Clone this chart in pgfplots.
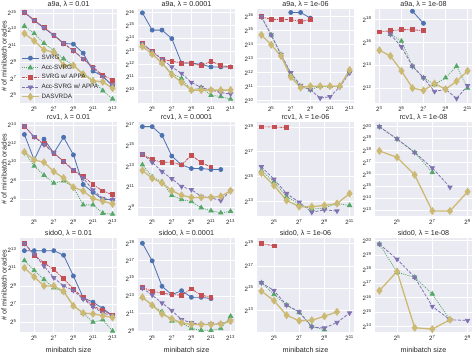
\documentclass[border=0pt]{standalone}
\usepackage{pgfplots}
\pgfplotsset{compat=1.18}
\usepackage{fontspec}
\setmainfont{Liberation Sans}
\definecolor{sbg}{HTML}{EAEAF2}
\definecolor{cB}{HTML}{4C72B0}
\definecolor{cG}{HTML}{55A868}
\definecolor{cR}{HTML}{C44E52}
\definecolor{cP}{HTML}{8172B2}
\definecolor{cY}{HTML}{CCB974}
\definecolor{txt}{HTML}{262626}
\newcommand{\tl}{\pgfmathtruncatemacro{\e}{\tick}2\textsuperscript{\e}}
\pgfplotsset{
  panel/.style={
    scale only axis, width=97pt, height=94pt, anchor=south west,
    axis background/.style={fill=sbg},
    axis line style={draw=none},
    major tick length=0pt, minor tick num=0,
    grid=major, grid style={white, line width=0.8pt},
    tick label style={font=\fontsize{6.2}{6.2}\selectfont, text=txt},
    xticklabel style={yshift=0.5pt},
    xticklabel={\tl}, yticklabel={\tl},
    title style={font=\fontsize{7.2}{7.2}\selectfont, text=txt, yshift=-8.3pt},
    xmin=3.55, xmax=13.45, xtick={5,7,9,11,13},
    label style={font=\fontsize{7.2}{7.2}\selectfont, text=txt},
    ylabel style={at={(axis description cs:-0.165,0.5)}, anchor=center},
    xlabel style={at={(axis description cs:0.5,-0.19)}, anchor=center},
  },
  sB/.style={cB, solid, line width=0.8pt, mark=*, mark size=2pt},
  sG/.style={cG, line width=0.8pt, dash pattern=on 1pt off 1.2pt, mark=triangle*, mark size=2.4pt, mark options={solid}},
  sR/.style={cR, line width=0.8pt, dash pattern=on 3pt off 1pt on 1pt off 1pt, mark=square*, mark size=1.9pt, mark options={solid}},
  sP/.style={cP, line width=0.8pt, dash pattern=on 3pt off 1.5pt, mark=triangle*, mark size=2.4pt, mark options={solid, rotate=180}},
  sY/.style={cY, solid, line width=1.3pt, mark=diamond*, mark size=3pt},
}
\begin{document}
\begin{tikzpicture}
\useasboundingbox (0,0) rectangle (474pt,353pt);
% ---------- row 1 : a9a
\begin{axis}[panel, at={(20pt,250pt)}, title={a9a, λ = 0.01}, ymin=4.0, ymax=15.5, ytick={5,7,9,11,13,15},
  ylabel={\# of minibatch oracles},
  legend style={at={(axis description cs:0.0,0.0)}, anchor=south west, draw=none, fill=none,
    font=\fontsize{6.3}{6.3}\selectfont, text=txt, row sep=-0.3pt, inner sep=1pt}, legend cell align=left]
\addplot[sB] coordinates {(4,15.1)(5,14.1)(6,13.2)(7,12.3)(8,11.3)(9,11.2)(10,10.1)(11,7.9)(12,7.3)(13,6.1)};
\addplot[sG] coordinates {(4,13.4)(5,12.5)(6,11.3)(7,10.4)(8,9.4)(9,8.6)(10,7.6)(11,6.8)(12,5.5)(13,4.5)};
\addplot[sR] coordinates {(4,15.1)(5,14.1)(6,13.2)(7,12.3)(8,11.3)(9,10.4)(10,9.4)(11,8.4)(12,7.4)(13,6.8)};
\addplot[sP] coordinates {(4,15.1)(5,14.1)(6,13.2)(7,12.3)(8,11.3)(9,10.4)(10,9.4)(11,8.3)(12,7.2)(13,6.2)};
\addplot[sY] coordinates {(4,12.5)(5,11.6)(6,10.5)(7,10.2)(8,8.6)(9,8.6)(10,7.5)(11,6.7)(12,6.6)(13,5.8)};
\legend{SVRG, Acc-SVRG, SVRG w/ APPA, Acc-SVRG w/ APPA, DASVRDA}
\end{axis}
\begin{axis}[panel, at={(138pt,250pt)}, title={a9a, λ = 0.0001}, ymin=9.0, ymax=16.3, ytick={10,11,12,13,14,15,16}]
\addplot[sB] coordinates {(4,16.0)(5,14.66)(6,14.66)(7,14.0)(8,12.1)(9,12.1)(10,12.0)(11,11.8)(12,11.8)(13,11.8)};
\addplot[sG] coordinates {(4,13.4)(5,12.8)(6,12.1)(7,11.3)(8,10.9)(9,10.0)(10,10.2)(11,9.6)(12,9.5)(13,9.3)};
\addplot[sR] coordinates {(4,13.6)(5,13.0)(6,12.4)(7,12.25)(8,12.1)(9,12.1)(10,11.9)(11,12.25)(12,11.9)(13,11.8)};
\addplot[sP] coordinates {(4,13.6)(5,13.0)(6,12.4)(7,11.8)(8,11.3)(9,10.6)(10,10.2)(11,10.0)(12,9.8)(13,9.7)};
\addplot[sY] coordinates {(4,13.4)(5,12.8)(6,12.1)(7,11.2)(8,10.6)(9,10.0)(10,10.0)(11,10.0)(12,10.0)(13,10.0)};
\end{axis}
\begin{axis}[panel, at={(257pt,250pt)}, title={a9a, λ = 1e-06}, ymin=9.85, ymax=16.55, ytick={10,11,12,13,14,15,16}]
\addplot[sB] coordinates {(7,16.3)(8,16.3)(9,15.9)};
\addplot[sG] coordinates {(4,16.0)(5,14.7)(6,13.3)(7,11.9)(8,11.0)(9,10.8)(10,11.05)(11,11.05)(12,11.05)(13,12.1)};
\addplot[sR] coordinates {(4,16.0)(5,15.8)(6,15.8)(7,15.8)(8,15.65)(9,15.8)};
\addplot[sP] coordinates {(4,16.0)(5,14.7)(6,13.3)(7,12.0)(8,11.1)(9,10.8)(10,10.2)(11,10.3)(12,11.0)(13,12.0)};
\addplot[sY] coordinates {(4,14.7)(5,14.0)(6,13.2)(7,11.7)(8,10.95)(9,11.05)(10,11.05)(11,11.05)(12,11.05)(13,12.2)};
\end{axis}
\begin{axis}[panel, at={(375pt,250pt)}, title={a9a, λ = 1e-08}, xmin=2.6, xmax=11.4, xtick={3,5,7,9,11}, ymin=10.7, ymax=18.9, ytick={12,14,16,18}]
\addplot[sB] coordinates {(6,18.7)(7,17.65)};
\addplot[sG] coordinates {(4,16.7)(5,16.1)(6,13.9)(7,12.9)(8,12.3)(9,12.9)(10,13.9)(11,12.0)};
\addplot[sR] coordinates {(3,16.9)(4,17.0)(5,17.1)(6,17.1)(7,17.0)};
\addplot[sP] coordinates {(4,16.7)(5,15.6)(6,13.9)(7,12.9)(8,11.7)(9,11.9)(10,11.1)(11,12.2)};
\addplot[sY] coordinates {(3,15.3)(4,14.8)(5,13.5)(6,12.0)(7,11.8)(8,12.4)(9,11.9)(10,12.6)(11,13.5)};
\end{axis}
% ---------- row 2 : rcv1
\begin{axis}[panel, at={(20pt,137pt)}, title={rcv1, λ = 0.01}, ymin=4.2, ymax=14.35, ytick={6,8,10,12,14},
  ylabel={\# of minibatch oracles}]
\addplot[sB] coordinates {(4,13.0)(5,10.25)(6,12.5)(7,11.0)(8,12.7)(9,10.8)(10,7.6)(11,6.75)(12,6.0)(13,5.95)};
\addplot[sG] coordinates {(4,11.1)(5,9.6)(6,8.6)(7,7.75)(8,8.0)(9,7.3)(10,5.4)(11,5.4)(12,4.5)(13,4.4)};
\addplot[sR] coordinates {(4,13.9)(5,12.75)(6,12.0)(7,11.0)(8,10.1)(9,9.1)(10,8.5)(11,7.6)(12,6.9)(13,6.5)};
\addplot[sP] coordinates {(4,13.9)(5,12.75)(6,11.9)(7,11.0)(8,10.1)(9,9.2)(10,8.3)(11,7.0)(12,6.1)(13,5.95)};
\addplot[sY] coordinates {(4,11.1)(5,10.25)(6,10.0)(7,9.0)(8,8.3)(9,7.3)(10,6.9)(11,6.1)(12,5.8)(13,5.5)};
\end{axis}
\begin{axis}[panel, at={(138pt,137pt)}, title={rcv1, λ = 0.0001}, ymin=8.2, ymax=17.3, ytick={9,11,13,15,17}]
\addplot[sB] coordinates {(4,16.85)(5,16.85)(6,16.0)(7,14.0)(8,13.15)(9,12.8)(10,12.8)(11,12.7)(12,12.7)};
\addplot[sG] coordinates {(4,13.15)(5,12.0)(6,11.5)(7,10.2)(8,9.8)(9,9.6)(10,9.0)(11,8.7)(12,8.5)(13,8.65)};
\addplot[sR] coordinates {(4,14.2)(5,13.65)(6,13.4)(7,13.4)(8,13.15)(9,14.1)(10,13.35)(11,12.95)};
\addplot[sP] coordinates {(4,14.2)(5,13.4)(6,12.5)(7,11.8)(8,11.05)(9,10.75)(10,10.1)(11,9.95)(12,9.7)(13,10.65)};
\addplot[sY] coordinates {(4,12.6)(5,11.85)(6,11.4)(7,10.65)(8,10.2)(9,10.0)(10,10.0)(11,10.0)(12,10.1)(13,10.65)};
\end{axis}
\begin{axis}[panel, at={(257pt,137pt)}, title={rcv1, λ = 1e-06}, xmin=3.65, xmax=11.35, xtick={5,7,9,11}, ymin=11.85, ymax=19.4, ytick={13,15,17,19}]
\addplot[sG] coordinates {(4,15.5)(5,14.6)(6,13.4)(7,12.8)(8,12.4)(9,12.5)(10,12.85)(11,12.7)};
\addplot[sR] coordinates {(4,19.0)(5,19.0)(6,18.95)};
\addplot[sP] coordinates {(4,15.8)(5,14.8)(6,13.65)(7,12.95)(8,12.15)(9,12.35)(10,12.25)};
\addplot[sY] coordinates {(4,15.3)(5,14.3)(6,13.1)(7,12.6)(8,12.6)(9,12.7)(10,12.85)(11,13.65)};
\end{axis}
\begin{axis}[panel, at={(375pt,137pt)}, title={rcv1, λ = 1e-08}, xmin=3.75, xmax=9.25, xtick={5,7,9}, ymin=12.5, ymax=20.4, ytick={13,14,15,16,17,18,19,20}]
\addplot[sG] coordinates {(4,20.0)(5,18.97)(6,17.84)(7,16.16)};
\addplot[sP] coordinates {(4,20.0)(5,18.97)(6,17.84)(7,16.54)(8,14.92)};
\addplot[sY] coordinates {(4,17.97)(5,17.43)(6,15.95)(7,12.92)(8,12.92)(9,14.54)};
\end{axis}
% ---------- row 3 : sido0
\begin{axis}[panel, at={(20pt,21pt)}, title={sido0, λ = 0.01}, ymin=3.9, ymax=14.3, ytick={5,7,9,11,13},
  ylabel={\# of minibatch oracles}, xlabel={minibatch size}]
\addplot[sB] coordinates {(4,12.9)(5,12.9)(6,12.9)(7,12.9)(8,12.4)(9,10.1)(10,7.7)(11,7.2)(12,6.5)(13,5.7)};
\addplot[sG] coordinates {(4,11.8)(5,10.7)(6,9.7)(7,8.8)(8,8.35)(9,6.8)(10,5.98)(11,5.0)(12,5.25)(13,4.0)};
\addplot[sR] coordinates {(4,13.7)(5,12.4)(6,11.55)(7,10.8)(8,9.8)(9,8.65)(10,7.7)(11,6.8)(12,6.25)(13,5.8)};
\addplot[sP] coordinates {(4,13.7)(5,12.5)(6,11.2)(7,9.9)(8,9.0)(9,8.5)(10,7.55)(11,6.7)(12,6.0)(13,5.7)};
\addplot[sY] coordinates {(4,11.0)(5,10.0)(6,9.0)(7,9.0)(8,8.4)(9,6.8)(10,6.0)(11,5.9)(12,5.7)(13,5.5)};
\end{axis}
\begin{axis}[panel, at={(138pt,21pt)}, title={sido0, λ = 0.0001}, ymin=8.9, ymax=19.6, ytick={9,11,13,15,17,19},
  xlabel={minibatch size}]
\addplot[sB] coordinates {(4,19.0)(5,17.0)(6,14.1)(7,13.15)(8,13.6)(9,12.85)(10,12.85)(11,12.7)};
\addplot[sG] coordinates {(4,12.85)(5,11.95)(6,11.2)(7,10.15)(8,9.95)(9,9.3)(10,9.1)(11,9.1)(12,9.3)(13,10.7)};
\addplot[sR] coordinates {(4,14.0)(5,13.5)(6,13.35)(7,13.15)(8,13.1)(9,13.8)(10,13.1)(11,12.85)};
\addplot[sP] coordinates {(4,13.9)(5,13.1)(6,12.2)(7,11.35)(8,10.3)(9,9.95)(10,9.75)(11,9.8)(12,9.8)(13,10.15)};
\addplot[sY] coordinates {(4,12.85)(5,11.95)(6,10.95)(7,10.4)(8,9.95)(9,9.75)(10,9.75)(11,9.75)(12,9.8)(13,10.15)};
\end{axis}
\begin{axis}[panel, at={(257pt,21pt)}, title={sido0, λ = 1e-06}, xmin=3.65, xmax=11.35, xtick={5,7,9,11}, ymin=11.1, ymax=19.5, ytick={13,15,17,19},
  xlabel={minibatch size}]
\addplot[sG] coordinates {(4,15.5)(5,14.45)(6,13.5)(7,12.85)(8,11.6)(9,11.3)};
\addplot[sR] coordinates {(4,19.0)(5,18.8)};
\addplot[sP] coordinates {(4,15.5)(5,14.8)(6,13.5)(7,12.9)(8,11.55)(9,11.45)(10,11.95)(11,12.8)};
\addplot[sY] coordinates {(4,14.75)(5,13.9)(6,12.6)(7,12.1)(8,12.15)(9,12.5)(10,12.9)};
\end{axis}
\begin{axis}[panel, at={(375pt,21pt)}, title={sido0, λ = 1e-08}, xmin=3.75, xmax=9.25, xtick={5,7,9}, ymin=13.6, ymax=20.2, ytick={14,15,16,17,18,19,20},
  xlabel={minibatch size}]
\addplot[sG] coordinates {(4,19.77)(5,17.8)(6,17.44)(7,16.27)(8,14.46)};
\addplot[sP] coordinates {(4,19.77)(5,18.71)(6,17.44)(7,15.4)(8,14.46)(9,14.41)};
\addplot[sY] coordinates {(4,16.5)(5,17.85)(6,13.9)(7,13.8)(8,14.46)};
\end{axis}
\end{tikzpicture}
\end{document}
